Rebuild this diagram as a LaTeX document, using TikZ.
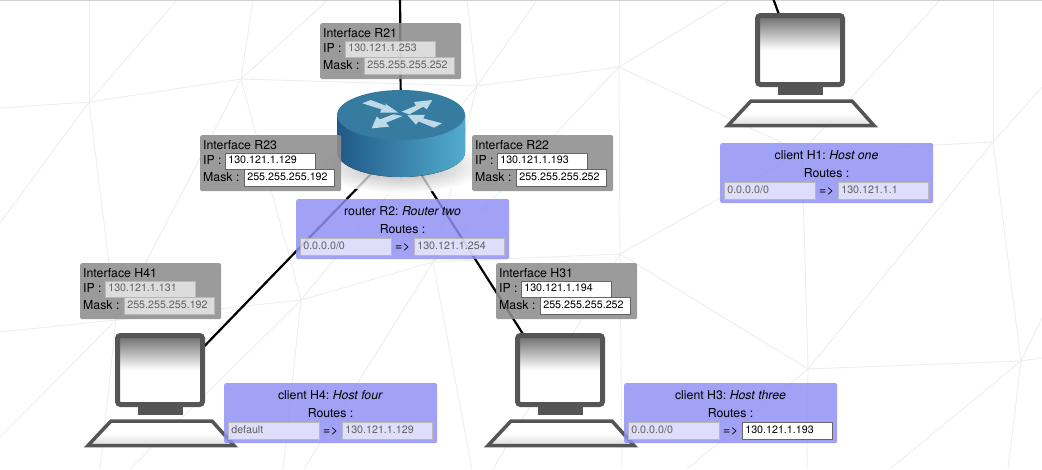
\documentclass[tikz,border=0pt]{standalone}
\usepackage{fontspec}
\setmainfont{TeX Gyre Heros}
\frenchspacing
\usetikzlibrary{positioning}
\usetikzlibrary{calc}
\usetikzlibrary{shapes.geometric}
\definecolor{meshgray}{RGB}{238,238,238}
\definecolor{topgray}{RGB}{208,208,208}
\definecolor{ifacegray}{RGB}{142,142,142}
\definecolor{routeblue}{RGB}{143,143,244}
\definecolor{pcgray}{RGB}{85,85,85}
\definecolor{routertop}{RGB}{54,124,160}
\definecolor{routerleft}{RGB}{32,88,135}
\definecolor{routermid}{RGB}{42,112,155}
\definecolor{routerright}{RGB}{82,172,206}
\definecolor{routerarrow}{RGB}{190,218,230}
\tikzset{
  meshline/.style={draw=meshgray,line width=0.9pt},
  netlink/.style={draw=black,line width=2.2pt},
  ifacebox/.style={shape=rectangle,anchor=north west,rounded corners=1.5pt,minimum width=141pt,minimum height=56pt,inner sep=0pt,fill=ifacegray,fill opacity=0.88,text opacity=1},
  routebox/.style={shape=rectangle,anchor=north west,rounded corners=1.5pt,minimum width=213pt,minimum height=60pt,inner sep=0pt,fill=routeblue,fill opacity=0.84,text opacity=1},
  fieldbase/.style={shape=rectangle,anchor=north west,minimum height=16.5pt,inner xsep=3pt,inner ysep=0pt,text height=7.8pt,text depth=2pt,align=left,line width=0.6pt,font=\fontsize{10.7}{12}\selectfont},
  offfield/.style={fieldbase,draw=black!28,fill=white,fill opacity=0.65,text opacity=1,text=black!62},
  onfield/.style={fieldbase,draw=black!60,fill=white,fill opacity=1,text=black},
  boxtext/.style={inner sep=0pt,font=\fontsize{12.3}{14}\selectfont,text=black},
  monitor/.style={shape=rectangle,anchor=north west,rounded corners=3pt,minimum width=85pt,minimum height=69pt,inner sep=0pt,line width=5pt,draw=pcgray,top color=black!58,bottom color=white,middle color=white},
  keyboard/.style={draw=pcgray,line width=3.5pt,miter limit=10,top color=white,bottom color=black!14,middle color=white}
}
% interface box: name, x, y, title, ip, mask, field style
\newcommand\ifacepanel[7]{
\node[ifacebox] (#1) at (#2,#3) {};
\node[boxtext,anchor=base west] (#1title) at ($(#1.north west)+(3,14)$) {#4};
\node[offfield,#7,text width=84pt] (#1ip) at ($(#1.north west)+(25,17.5)$) {#5};
\node[offfield,#7,text width=84pt] (#1mask) at ($(#1.north west)+(44,34)$) {#6};
\node[boxtext,anchor=base west] (#1iplabel) at ($(#1.north west)+(3,29)$) {IP :};
\node[boxtext,anchor=base west] (#1masklabel) at ($(#1.north west)+(3,46)$) {Mask :};
}
% route box: name, x, y, title, target, gateway, style of gateway field
\newcommand\routepanel[7]{
\node[routebox] (#1) at (#2,#3) {};
\node[boxtext,anchor=base] (#1title) at ($(#1.north west)+(106.5,16)$) {#4};
\node[boxtext,anchor=base] (#1routes) at ($(#1.north west)+(106.5,34)$) {Routes :};
\node[offfield,text width=85pt] (#1dest) at ($(#1.north west)+(4,39)$) {#5};
\node[offfield,#7,text width=84pt] (#1gate) at ($(#1.north west)+(118,39)$) {#6};
\node[boxtext,anchor=base] (#1arrow) at ($(#1.north west)+(106.5,51.5)$) {=\kern0.6pt>};
}
% computer: name, x, y of the screen corner
\newcommand\hostpc[3]{
\fill[pcgray] ($(#2,#3)+(23,72)$) rectangle ($(#2,#3)+(68,82)$);
\node[monitor] (#1screen) at (#2,#3) {};
\filldraw[keyboard] ($(#2,#3)+(-27,112.5)$) -- ($(#2,#3)+(-4,88)$) -- ($(#2,#3)+(97,88)$) -- ($(#2,#3)+(119,112.5)$) -- cycle;
}

\begin{document}
\begin{tikzpicture}[x=1pt,y=-1pt]
\useasboundingbox (0,0) rectangle (1042,469);
\clip (0,0) rectangle (1042,469);
\fill[white] (0,0) rectangle (1042,469);
% mesh behind everything
\foreach \n/\x/\y in {a/89/102,b/241/79,c/477/86,d/619/67,e/802/152,f/993/142,g/808/369,h/620/254,i/1021/361,l/433/262,m/301/300,o/116/320,
  a1/89/0,a2/177/0,a3/0/108,a4/0/223,b1/253/0,b2/328/0,c1/467/0,c2/537/0,d1/619/0,d2/730/0,e1/940/0,f1/993/0,f2/1042/87,
  g1/807/469,g2/687/469,h1/622/469,h2/493/469,i1/1042/318,i2/1042/358,i3/1008/469,i4/890/469,l1/472/469,l2/304/469,m1/283/469,m2/130/469,o1/0/332,o2/0/437,o3/100/469}{
  \coordinate (v\n) at (\x,\y);
}
\foreach \s/\t in {a/a1,a/a2,a/a3,a/a4,a/b,a/o,b/b1,b/b2,b/c,b/m,b/o,c/c1,c/c2,c/d,c/l,c/m,d/d1,d/d2,d/e,d/h,d/l,e/e1,e/f,e/g,e/h,f/f1,f/f2,f/g,f/i,
  g/g1,g/g2,g/h,g/i,h/h1,h/h2,h/l,i/i1,i/i2,i/i3,i/i4,l/l1,l/l2,l/m,m/m1,m/m2,m/o,o/o1,o/o2,o/o3}{
  \draw[meshline] (v\s) -- (v\t);
}
\draw[draw=topgray,line width=1.5pt] (0,0.5) -- (1042,0.5);
% links
\coordinate (r2) at (401,143);
\coordinate (h1) at (800,72);
\coordinate (h3) at (560,392);
\coordinate (h4) at (160,392);
\coordinate (r2up) at (400,-10);
\coordinate (h1up) at (770,-10);
\draw[netlink] (r2) -- (r2up);
\draw[netlink] (r2) -- (h3);
\draw[netlink] (r2) -- (h4);
\draw[netlink] (h1) -- (h1up);
% router
\node[shape=ellipse,inner sep=0pt,minimum width=170pt,minimum height=54pt,inner color=black!42,outer color=white,opacity=0.8] (r2shadow) at (401,166) {};
\fill[left color=routerleft,middle color=routermid,right color=routerright] (337,115) -- (337,152) arc[start angle=180,end angle=360,x radius=64,y radius=-25] -- (465,115) -- cycle;
\fill[routertop] (401,115) ellipse[x radius=64,y radius=25];
\begin{scope}[shift={(330,80)},x=0.3333pt,y=-0.3333pt]
\fill[routerarrow] (97,70) -- (122,60) -- (170,78) -- (165,70) -- (205,98) -- (150,98) -- (155,88) -- cycle;
\fill[routerarrow] (215,95) -- (258,77) -- (252,66) -- (307,60) -- (290,88) -- (280,80) -- (238,103) -- cycle;
\fill[routerarrow] (190,103) -- (150,118) -- (140,110) -- (125,145) -- (178,140) -- (168,128) -- (218,108) -- cycle;
\fill[routerarrow] (232,105) -- (285,105) -- (280,115) -- (336,130) -- (312,143) -- (265,124) -- (258,134) -- cycle;
\end{scope}
% computers
\hostpc{pcone}{755}{13}
\hostpc{pcfour}{115}{333}
\hostpc{pcthree}{515}{333}
% boxes
\ifacepanel{ifr21}{320}{23}{Interface R21}{130.121.1.253}{255.255.255.252}{offfield}
\ifacepanel{ifr23}{200}{135}{Interface R23}{130.121.1.129}{255.255.255.192}{onfield}
\ifacepanel{ifr22}{472}{135}{Interface R22}{130.121.1.193}{255.255.255.252}{onfield}
\ifacepanel{ifh41}{80}{263}{Interface H41}{130.121.1.131}{255.255.255.192}{offfield}
\ifacepanel{ifh31}{496}{263}{Interface H31}{130.121.1.194}{255.255.255.252}{onfield}
\routepanel{boxr2}{296}{199}{router R2: \textit{Router two}}{0.0.0.0/0}{130.121.1.254}{offfield}
\routepanel{boxh1}{720}{143}{client H1: \textit{Host one}}{0.0.0.0/0}{130.121.1.1}{offfield}
\routepanel{boxh4}{224}{383}{client H4: \textit{Host four}}{default}{130.121.1.129}{offfield}
\routepanel{boxh3}{624}{383}{client H3: \textit{Host three}}{0.0.0.0/0}{130.121.1.193}{onfield}
\end{tikzpicture}
\end{document}
